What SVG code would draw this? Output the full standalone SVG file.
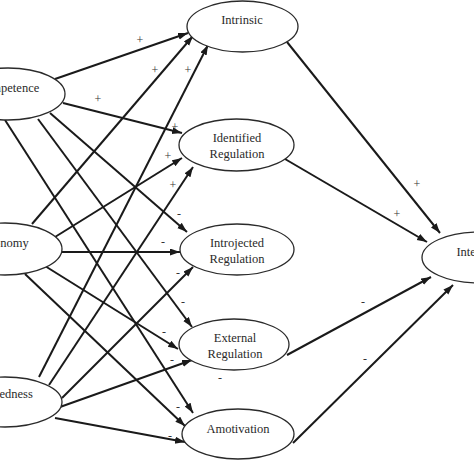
<svg xmlns="http://www.w3.org/2000/svg" width="474" height="474" viewBox="0 0 474 474">
<defs>
<marker id="ah" markerUnits="userSpaceOnUse" markerWidth="11" markerHeight="8" refX="10" refY="3.5" orient="auto">
<path d="M0,0 L10,3.5 L0,7 z" fill="#1a1a1a"/>
</marker>
<style>
.n ellipse{fill:#fff;stroke:#2a2a2a;stroke-width:1.3}
.n text{font-family:"Liberation Serif","Times New Roman",serif;font-size:12.5px;fill:#2a2a2a;text-anchor:middle}
#edges line{stroke:#1a1a1a;stroke-width:2;marker-end:url(#ah)}
.lb{font-family:"Liberation Serif","Times New Roman",serif;font-size:12px;fill:#333;text-anchor:middle}
</style>
</defs>
<rect width="474" height="474" fill="#fff"/>
<g id="edges">
<line x1="55" y1="79" x2="188" y2="33"/>
<line x1="63" y1="103" x2="182" y2="133"/>
<line x1="50" y1="113" x2="187" y2="232"/>
<line x1="38" y1="119" x2="192" y2="327"/>
<line x1="5" y1="120" x2="193" y2="413"/>
<line x1="32" y1="224" x2="193" y2="36"/>
<line x1="55" y1="237" x2="182" y2="158"/>
<line x1="62" y1="252" x2="180" y2="252"/>
<line x1="45" y1="266" x2="178" y2="349"/>
<line x1="25" y1="274" x2="185" y2="426"/>
<line x1="39" y1="377" x2="208" y2="45"/>
<line x1="49" y1="385" x2="193" y2="167"/>
<line x1="62" y1="398" x2="193" y2="267"/>
<line x1="60" y1="407" x2="192" y2="360"/>
<line x1="55" y1="418" x2="185" y2="442"/>
<line x1="287" y1="42" x2="440" y2="233"/>
<line x1="285" y1="159" x2="427" y2="242"/>
<line x1="287" y1="355" x2="431" y2="277"/>
<line x1="293" y1="443" x2="453" y2="285"/>
</g>
<g id="labels">
<text class="lb" x="140" y="44">+</text>
<text class="lb" x="155" y="74">+</text>
<text class="lb" x="188" y="74">+</text>
<text class="lb" x="98" y="103">+</text>
<text class="lb" x="175" y="131">+</text>
<text class="lb" x="168" y="160">+</text>
<text class="lb" x="173" y="189">+</text>
<text class="lb" x="179" y="218">-</text>
<text class="lb" x="163" y="246">-</text>
<text class="lb" x="178" y="277">-</text>
<text class="lb" x="183" y="306">-</text>
<text class="lb" x="164" y="336">-</text>
<text class="lb" x="172" y="364">-</text>
<text class="lb" x="220" y="382">-</text>
<text class="lb" x="178" y="411">-</text>
<text class="lb" x="170" y="440">-</text>
<text class="lb" x="417" y="188">+</text>
<text class="lb" x="397" y="218">+</text>
<text class="lb" x="363" y="306">-</text>
<text class="lb" x="365" y="363">-</text>
</g>
<g id="competence" class="n"><ellipse cx="8" cy="94" rx="57" ry="26"/><text x="8" y="92">Competence</text></g>
<g id="autonomy" class="n"><ellipse cx="5" cy="249" rx="57" ry="26"/><text x="2" y="247">Autonomy</text></g>
<g id="relatedness" class="n"><ellipse cx="5" cy="402" rx="57" ry="25"/><text x="3" y="398">Relatedness</text></g>
<g id="intrinsic" class="n"><ellipse cx="242.5" cy="26.5" rx="55.5" ry="25.5"/><text x="242" y="24">Intrinsic</text></g>
<g id="identified" class="n"><ellipse cx="236.5" cy="145" rx="57.5" ry="26"/><text x="237" y="142">Identified</text><text x="237" y="158">Regulation</text></g>
<g id="introjected" class="n"><ellipse cx="237" cy="249.5" rx="57" ry="25.5"/><text x="237" y="247">Introjected</text><text x="237" y="263">Regulation</text></g>
<g id="external" class="n"><ellipse cx="234" cy="344.5" rx="55" ry="25.5"/><text x="235" y="342">External</text><text x="235" y="358">Regulation</text></g>
<g id="amotivation" class="n"><ellipse cx="238" cy="434" rx="56" ry="25"/><text x="238" y="433">Amotivation</text></g>
<g id="intention" class="n"><ellipse cx="479" cy="257.5" rx="57" ry="25.5"/><text x="479" y="256">Intention</text></g>
</svg>
